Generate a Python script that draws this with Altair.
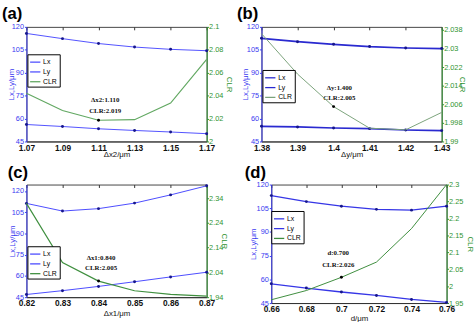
import altair as alt
import pandas as pd

# ---------------- data ----------------
a_x = [1.07, 1.09, 1.11, 1.13, 1.15, 1.17]
a_lx = [56.1, 54.8, 53.3, 52.2, 51.2, 50.1]
a_ly = [115.7, 112.3, 109.1, 106.8, 105.3, 104.4]
a_clr = [2.042, 2.027, 2.0185, 2.019, 2.0335, 2.0716]

b_x = [1.38, 1.39, 1.40, 1.41, 1.42, 1.43]
b_lx = [54.9, 54.5, 53.8, 53.4, 52.5, 52.1]
b_ly = [112.5, 110.3, 108.6, 107.1, 106.2, 105.8]
b_clr = [2.0364, 2.019, 2.005, 1.9957, 1.995, 2.0025]

c_x = [0.82, 0.83, 0.84, 0.85, 0.86, 0.87]
c_lx = [46.9, 49.6, 52.6, 55.9, 59.3, 62.6]
c_ly = [111.2, 105.8, 107.5, 111.4, 117.2, 123.6]
c_clr = [2.319, 2.08, 2.005, 1.966, 1.951, 1.944]

d_x = [0.66, 0.68, 0.70, 0.72, 0.74, 0.76]
d_lx = [57.2, 54.5, 52.0, 49.8, 47.3, 45.4]
d_ly = [113.0, 109.2, 106.3, 104.3, 103.8, 106.3]
d_clr = [1.9597, 1.987, 2.026, 2.071, 2.17, 2.3]

series_names = ["Lx", "Ly", "CLR"]
left_ticks = [45, 60, 75, 90, 105, 120]
a_rticks = [2.0, 2.02, 2.04, 2.06, 2.08, 2.1]
b_rticks = [1.99, 1.998, 2.006, 2.014, 2.022, 2.03, 2.038]
c_rticks = [1.94, 2.04, 2.14, 2.24, 2.34]
d_rticks = [1.95, 2.0, 2.05, 2.1, 2.15, 2.2, 2.25, 2.3]

x_titles = ["Δx2/μm", "Δy/μm", "Δx1/μm", "d/μm"]
panel_labels = ["(a)", "(b)", "(c)", "(d)"]
ann_texts = [["Δx2:1.110", "CLR:2.019"], ["Δy:1.400", "CLR:2.005"],
             ["Δx1:0.840", "CLR:2.005"], ["d:0.700", "CLR:2.026"]]
sel_index = [2, 2, 2, 2]

# ---------------- layout / style ----------------
BLUE = "#3a3af0"
GREEN = "#2f932f"
DOT = "#16168c"

layouts = [
    dict(w=184, h=117, ldom=[45, 120], rdom=[2.0, 2.1], ltx=-15, rtx=22, xty=13.4, rfmt=".3~g",
         lab=(-25, -8), leg=(1, 28), ann=(1.1137, 71.9, 65.2), lw=1.0, lcol="#5050ff", cw=1.2, ccol="#62a862"),
    dict(w=184, h=117, ldom=[45, 120], rdom=[1.99, 2.0393], ltx=-16, rtx=20, xty=13.4, rfmt=".4~g",
         lab=(-25, -8), leg=(1, 44), ann=(1.4016, 80.1, 73.7), lw=1.7, lcol="#2a2ad0", cw=1.0, ccol="#7aa27a"),
    dict(w=184, h=115, ldom=[45, 124.5], rdom=[1.94, 2.395], ltx=-14, rtx=17, xty=17, rfmt=".3~g",
         lab=(-19, -7), leg=(1, 63), ann=(0.8407, 72.6, 65.3), lw=1.0, lcol="#4a4aff", cw=1.2, ccol="#3f8f3f"),
    dict(w=179, h=121, ldom=[45, 120], rdom=[1.95, 2.3], ltx=-18.5, rtx=23, xty=15.7, rfmt=".3~g",
         lab=(-27, -7), leg=(0, 27), ann=(0.6982, 76.7, 68.8), lw=1.3, lcol="#3636e6", cw=1.0, ccol="#3c8c3c"),
]

panels_data = [
    (a_x, a_lx, a_ly, a_clr, a_rticks),
    (b_x, b_lx, b_ly, b_clr, b_rticks),
    (c_x, c_lx, c_ly, c_clr, c_rticks),
    (d_x, d_lx, d_ly, d_clr, d_rticks),
]


def make_panel(i):
    xs, lx, ly, clr, rticks = panels_data[i]
    L = layouts[i]
    n = len(xs)
    df_l = pd.DataFrame({"x": xs + xs, "value": lx + ly,
                         "series": ["Lx"] * n + ["Ly"] * n})
    df_r = pd.DataFrame({"x": xs, "value": clr, "series": ["CLR"] * n})
    df_sel = df_r.iloc[[sel_index[i]]]
    ax, ay1, ay2 = L["ann"]
    df_ann = pd.DataFrame({"x": [ax, ax], "value": [ay1, ay2], "text": ann_texts[i]})
    df_lab = pd.DataFrame({"t": [panel_labels[i]]})

    xscale = alt.Scale(domain=[xs[0], xs[-1]], nice=False, zero=False)
    lscale = alt.Scale(domain=L["ldom"], nice=False, zero=False)
    rscale = alt.Scale(domain=L["rdom"], nice=False, zero=False)

    color = alt.Color(
        "series:N",
        scale=alt.Scale(domain=series_names, range=[L["lcol"], L["lcol"], L["ccol"]]),
        legend=alt.Legend(
            orient="none", legendX=L["leg"][0], legendY=L["leg"][1], title=None,
            symbolType="stroke", symbolStrokeWidth=1.3, symbolSize=110,
            labelFontSize=7, labelColor="#000", strokeColor="#000", fillColor="#fff",
            padding=2, rowPadding=1, labelOffset=2, offset=0),
    )

    x_bottom = alt.X("x:Q", scale=xscale, axis=alt.Axis(
        orient="bottom", values=xs, format=".3~g", title=x_titles[i],
        labelFontSize=8.5, labelFontWeight="bold", labelColor="#111",
        labelFlush=False, labelOverlap=False, tickSize=0, labelPadding=2,
        domainColor="#333", grid=False,
        titleFontSize=8, titleFontWeight="normal", titleColor="#111",
        titleBaseline="middle", titleY=L["xty"]))
    x_top = alt.X("x:Q", scale=xscale, axis=alt.Axis(
        orient="top", values=xs, labels=False, domain=False, tickSize=3,
        tickColor="#333", offset=-3, title=None, grid=False))
    x_none = alt.X("x:Q", scale=xscale, axis=None)

    y_left = alt.Y("value:Q", scale=lscale, axis=alt.Axis(
        orient="left", values=left_ticks, format="d", title="Lx,Ly/μm", grid=False,
        labelColor=BLUE, domainColor=BLUE, tickColor=BLUE, tickSize=2,
        labelPadding=1, labelFontSize=7.5, labelOverlap=False,
        titleColor=BLUE, titleFontSize=8, titleFontWeight="normal",
        titleAngle=270, titleBaseline="middle", titleAlign="center",
        titleX=L["ltx"], titleY=L["h"] / 2))
    y_left_none = alt.Y("value:Q", scale=lscale, axis=None)
    y_right = alt.Y("value:Q", scale=rscale, axis=alt.Axis(
        orient="right", values=rticks, format=L["rfmt"], title="CLR", grid=False,
        labelColor=GREEN, domainColor=GREEN, tickColor=GREEN, tickSize=2,
        labelPadding=0, labelFontSize=7.5, labelOverlap=False,
        titleColor=GREEN, titleFontSize=8, titleFontWeight="normal",
        titleAngle=90, titleBaseline="middle", titleAlign="center",
        titleX=L["rtx"], titleY=L["h"] / 2))
    y_right_none = alt.Y("value:Q", scale=rscale, axis=None)

    left_lines = alt.Chart(df_l).mark_line(strokeWidth=L["lw"]).encode(
        x=x_bottom, y=y_left, color=color)
    left_pts = alt.Chart(df_l).mark_circle(size=9, color=DOT, opacity=1).encode(
        x=x_none, y=y_left_none)
    ann = alt.Chart(df_ann).mark_text(
        font="Liberation Serif", fontWeight="bold", fontSize=7, color="#111",
        align="center", baseline="middle").encode(x=x_none, y=y_left_none, text="text:N")
    lab = alt.Chart(df_lab).mark_text(
        font="Liberation Sans", fontWeight="bold", fontSize=17, color="#000",
        align="left", baseline="alphabetic").encode(
        x=alt.value(L["lab"][0]), y=alt.value(L["lab"][1]), text="t:N")
    right_line = alt.Chart(df_r).mark_line(strokeWidth=L["cw"]).encode(
        x=x_top, y=y_right, color=color)
    right_pt = alt.Chart(df_sel).mark_circle(size=9, color="#000", opacity=1).encode(
        x=x_none, y=y_right_none)

    return alt.layer(left_lines, left_pts, ann, right_line, right_pt, lab).resolve_scale(
        y="independent").resolve_axis(x="independent").properties(
        width=L["w"], height=L["h"])


pa, pb, pc, pd_ = [make_panel(i) for i in range(4)]

row1 = alt.hconcat(pa, pb, spacing=3).resolve_scale(
    color="independent").resolve_legend(color="independent")
row2 = alt.hconcat(pc, pd_, spacing=16).resolve_scale(
    color="independent").resolve_legend(color="independent")

chart = alt.vconcat(row1, row2, spacing=4).resolve_scale(
    color="independent").resolve_legend(color="independent").properties(
    padding={"left": 1, "top": 1, "right": 0, "bottom": 0}, background="white"
).configure(font="Liberation Sans").configure_view(stroke="#444", strokeWidth=1)

chart.save("out.html", embed_options={"renderer": "svg", "actions": False})
